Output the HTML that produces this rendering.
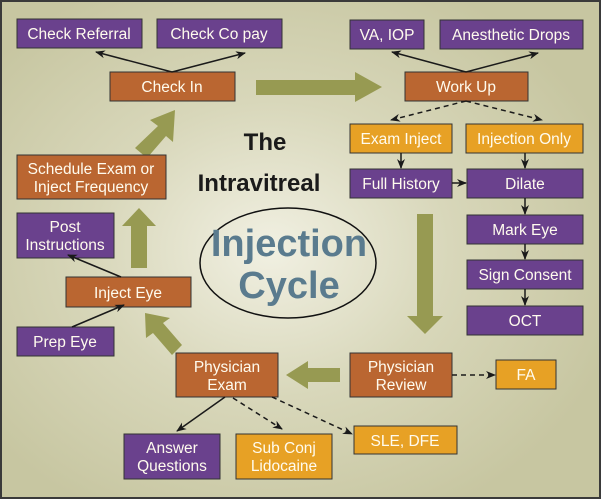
<!DOCTYPE html>
<html><head><style>
body{margin:0;background:#fff}
svg{display:block}
text{font-family:"Liberation Sans",sans-serif}
.b{fill:#fffbee;font-size:15.5px;text-anchor:middle}
</style></head><body>
<svg width="601" height="499" viewBox="0 0 601 499" xmlns="http://www.w3.org/2000/svg">
<defs>
<radialGradient id="bg" cx="0.45" cy="0.5" r="0.6">
<stop offset="0" stop-color="#f1f0e2"/><stop offset="0.5" stop-color="#d8d7ba"/><stop offset="1" stop-color="#c7c6a1"/>
</radialGradient>
<marker id="ah" markerWidth="10" markerHeight="8" refX="9" refY="4" orient="auto" markerUnits="userSpaceOnUse"><path d="M0,0 L10,4 L0,8 L3,4z" fill="#1a1a1a"/></marker>
</defs>
<rect x="0" y="0" width="601" height="499" fill="#3a3a3a"/>
<rect x="2" y="2" width="597" height="495" fill="url(#bg)"/>
<g fill="#979a52">
<polygon points="256,80 355,80 355,72 382,87 355,102 355,95 256,95"/>
<polygon points="417,214 433,214 433,316 443,316 425,334 407,316 417,316"/>
<polygon points="340,368 308,368 308,361 286,375 308,389 308,382 340,382"/>
<polygon points="131,268 147,268 147,226 156,226 139,208 122,226 131,226"/>
<polygon points="182,345 163,323 170,318 145,313 146,338 153,333 172,355"/>
<polygon points="135,148 147,158 166,136 173,142 175,110 150,120 158,126"/>
</g>
<ellipse cx="288" cy="263" rx="88" ry="55" fill="none" stroke="#111" stroke-width="1.5"/>
<text x="265" y="150" font-size="24" font-weight="bold" fill="#1a1a1a" text-anchor="middle">The</text>
<text x="259" y="191" font-size="24" font-weight="bold" fill="#1a1a1a" text-anchor="middle">Intravitreal</text>
<text x="289" y="256" font-size="38" font-weight="bold" fill="#5a7b8e" text-anchor="middle">Injection</text>
<text x="289" y="298" font-size="38" font-weight="bold" fill="#5a7b8e" text-anchor="middle">Cycle</text>
<g stroke="#333" stroke-width="1">
<g fill="#6a418d">
<rect x="17" y="19" width="125" height="29"/><rect x="157" y="19" width="125" height="29"/>
<rect x="350" y="20" width="74" height="29"/><rect x="440" y="20" width="143" height="29"/>
<rect x="350" y="169" width="102" height="29"/><rect x="467" y="169" width="116" height="29"/>
<rect x="467" y="215" width="116" height="29"/><rect x="467" y="260" width="116" height="29"/>
<rect x="467" y="306" width="116" height="29"/>
<rect x="17" y="213" width="97" height="45"/><rect x="17" y="327" width="97" height="29"/>
<rect x="124" y="434" width="96" height="45"/>
</g>
<g fill="#ba6631">
<rect x="110" y="72" width="125" height="29"/><rect x="405" y="72" width="123" height="29"/>
<rect x="17" y="155" width="149" height="44"/><rect x="66" y="277" width="125" height="30"/>
<rect x="176" y="353" width="102" height="44"/><rect x="350" y="353" width="102" height="44"/>
</g>
<g fill="#e7a125">
<rect x="350" y="124" width="102" height="29"/><rect x="466" y="124" width="117" height="29"/>
<rect x="496" y="360" width="60" height="29"/><rect x="354" y="426" width="103" height="28"/>
<rect x="236" y="434" width="96" height="45"/>
</g>
</g>
<g class="b">
<text class="b" x="79" y="39">Check Referral</text>
<text class="b" x="219" y="39">Check Co pay</text>
<text class="b" x="387" y="40">VA, IOP</text>
<text class="b" x="511" y="40">Anesthetic Drops</text>
<text class="b" x="172" y="92">Check In</text>
<text class="b" x="466" y="92">Work Up</text>
<text class="b" x="401" y="144">Exam Inject</text>
<text class="b" x="524" y="144">Injection Only</text>
<text class="b" x="401" y="189">Full History</text>
<text class="b" x="525" y="189">Dilate</text>
<text class="b" x="525" y="235">Mark Eye</text>
<text class="b" x="525" y="280">Sign Consent</text>
<text class="b" x="525" y="326">OCT</text>
<text class="b" x="91" y="174">Schedule Exam or</text>
<text class="b" x="91" y="192">Inject Frequency</text>
<text class="b" x="65" y="232">Post</text>
<text class="b" x="65" y="250">Instructions</text>
<text class="b" x="128" y="298">Inject Eye</text>
<text class="b" x="65" y="347">Prep Eye</text>
<text class="b" x="227" y="372">Physician</text>
<text class="b" x="227" y="390">Exam</text>
<text class="b" x="401" y="372">Physician</text>
<text class="b" x="401" y="390">Review</text>
<text class="b" x="526" y="380">FA</text>
<text class="b" x="405" y="446">SLE, DFE</text>
<text class="b" x="172" y="453">Answer</text>
<text class="b" x="172" y="471">Questions</text>
<text class="b" x="284" y="453">Sub Conj</text>
<text class="b" x="284" y="471">Lidocaine</text>
</g>
<g stroke="#1a1a1a" stroke-width="1.5" fill="none" marker-end="url(#ah)">
<line x1="172" y1="72" x2="96" y2="52"/><line x1="172" y1="72" x2="245" y2="53"/>
<line x1="466" y1="72" x2="392" y2="52"/><line x1="466" y1="72" x2="538" y2="53"/>
<line x1="401" y1="153" x2="401" y2="168"/><line x1="525" y1="153" x2="525" y2="168"/>
<line x1="452" y1="183" x2="466" y2="183"/>
<line x1="525" y1="198" x2="525" y2="214"/><line x1="525" y1="244" x2="525" y2="259"/>
<line x1="525" y1="289" x2="525" y2="305"/>
<line x1="121" y1="277" x2="68" y2="255"/><line x1="72" y1="327" x2="124" y2="305"/>
<line x1="225" y1="397" x2="177" y2="431"/>
<g stroke-dasharray="5,4">
<line x1="466" y1="101" x2="391" y2="120"/><line x1="466" y1="101" x2="542" y2="120"/>
<line x1="452" y1="375" x2="495" y2="375"/>
<line x1="233" y1="398" x2="282" y2="429"/><line x1="272" y1="397" x2="352" y2="434"/>
</g>
</g>
</svg>
</body></html>
